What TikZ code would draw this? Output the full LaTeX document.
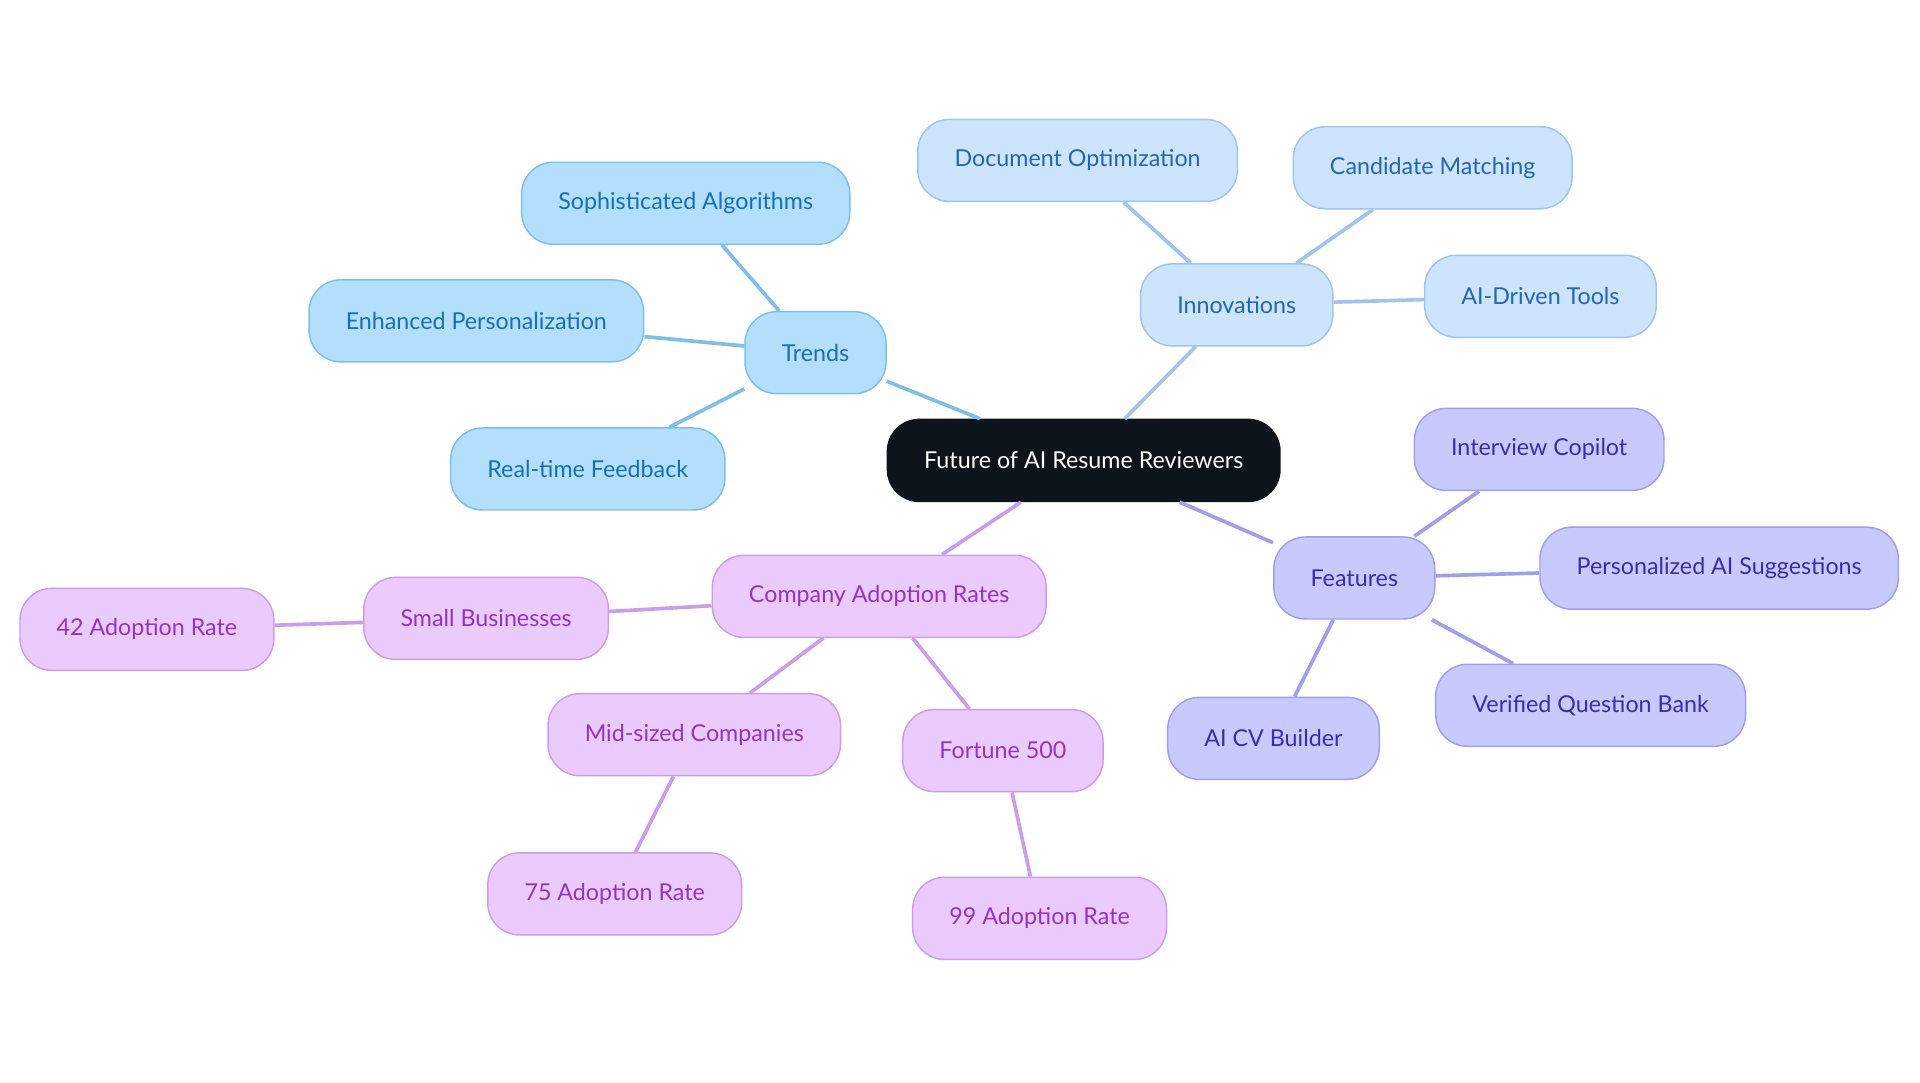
\documentclass[tikz,border=0pt]{standalone}
\usepackage{fontspec}
\setmainfont{Lato}
\definecolor{rootfill}{HTML}{0D141C}
\definecolor{trfill}{HTML}{B3DFFC}
\definecolor{trdraw}{HTML}{7DBFE9}
\definecolor{trtext}{HTML}{1670B4}
\definecolor{infill}{HTML}{CCE4FC}
\definecolor{indraw}{HTML}{A0C4EE}
\definecolor{intext}{HTML}{2565B5}
\definecolor{fefill}{HTML}{C8C9FD}
\definecolor{fedraw}{HTML}{9F9FEC}
\definecolor{fetext}{HTML}{3A2CB0}
\definecolor{cofill}{HTML}{EBCBFD}
\definecolor{codraw}{HTML}{CC9DE9}
\definecolor{cotext}{HTML}{9333C4}
\begin{document}
\begin{tikzpicture}
	[ x=0.5pt, y=-0.5pt,
	  topic/.style={draw,rounded corners=13pt,minimum height=33.5pt,inner xsep=15pt,line width=0.6pt,font=\fontsize{9.5}{11}\selectfont},
	  core/.style={topic,fill=rootfill,draw=rootfill,text=white},
	  trend/.style={topic,fill=trfill,draw=trdraw,text=trtext},
	  innov/.style={topic,fill=infill,draw=indraw,text=intext},
	  feat/.style={topic,fill=fefill,draw=fedraw,text=fetext},
	  comp/.style={topic,fill=cofill,draw=codraw,text=cotext},
	  link/.style={line width=1.5pt} ]

	\useasboundingbox (0,0) rectangle (1568,884);

	\node[core] (root) at (885,376) {Future of AI Resume Reviewers};

	\node[trend] (tr) at (666,288) {Trends};
	\node[trend] (tr1) at (560,166) {Sophisticated Algorithms};
	\node[trend] (tr2) at (389,262) {Enhanced Personalization};
	\node[trend] (tr3) at (480,383) {Real-time Feedback};

	\node[innov] (in) at (1010,249) {Innovations};
	\node[innov] (in1) at (880,131) {Document Optimization};
	\node[innov] (in2) at (1170,137) {Candidate Matching};
	\node[innov] (in3) at (1258,242) {AI-Driven Tools};

	\node[feat] (fe) at (1106,472) {Features};
	\node[feat] (fe1) at (1257,367) {Interview Copilot};
	\node[feat] (fe2) at (1404,464) {Personalized AI Suggestions};
	\node[feat] (fe3) at (1299,576) {Verified Question Bank};
	\node[feat] (fe4) at (1040,603) {AI CV Builder};

	\node[comp] (co) at (718,487) {Company Adoption Rates};
	\node[comp] (co1) at (397,505) {Small Businesses};
	\node[comp] (co2) at (567,600) {Mid-sized Companies};
	\node[comp] (co3) at (819,613) {Fortune 500};
	\node[comp] (ra1) at (120,514) {42 Adoption Rate};
	\node[comp] (ra2) at (502,730) {75 Adoption Rate};
	\node[comp] (ra3) at (849,750) {99 Adoption Rate};

	\draw[link,trdraw] (root) -- (tr);
	\draw[link,trdraw] (tr) -- (tr1);
	\draw[link,trdraw] (tr) -- (tr2);
	\draw[link,trdraw] (tr) -- (tr3);

	\draw[link,indraw] (root) -- (in);
	\draw[link,indraw] (in) -- (in1);
	\draw[link,indraw] (in) -- (in2);
	\draw[link,indraw] (in) -- (in3);

	\draw[link,fedraw] (root) -- (fe);
	\draw[link,fedraw] (fe) -- (fe1);
	\draw[link,fedraw] (fe) -- (fe2);
	\draw[link,fedraw] (fe) -- (fe3);
	\draw[link,fedraw] (fe) -- (fe4);

	\draw[link,codraw] (root) -- (co);
	\draw[link,codraw] (co) -- (co1);
	\draw[link,codraw] (co) -- (co2);
	\draw[link,codraw] (co) -- (co3);
	\draw[link,codraw] (co1) -- (ra1);
	\draw[link,codraw] (co2) -- (ra2);
	\draw[link,codraw] (co3) -- (ra3);

\end{tikzpicture}
\end{document}
